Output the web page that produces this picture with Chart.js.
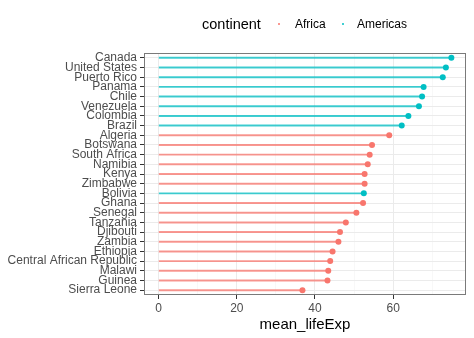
<!DOCTYPE html>
<html lang="en">
<head>
    <meta charset="UTF-8">
    <title>mean_lifeExp by country</title>
    <script src="https://cdn.jsdelivr.net/npm/chart.js"></script>
    <style>
        html, body { margin: 0; padding: 0; background: #fff; }
        #wrap { position: relative; width: 474px; height: 338px; font-family: "Liberation Sans", Arial, sans-serif; }
        #legend span { position: absolute; line-height: 1; white-space: nowrap; color: #000; }
        #legend .dot { width: 2px; height: 2px; border-radius: 1px; }
    </style>
</head>
<body>
    <div id="wrap">
        <canvas id="chart" width="474" height="338"></canvas>
        <!-- legend on top, like ggplot's legend.position = "top" -->
        <div id="legend">
            <span style="left:202px; top:17px; font-size:14.5px;">continent</span>
            <span class="dot" style="left:278px; top:23px; background:#F8766D;"></span>
            <span style="left:295px; top:18px; font-size:12px;">Africa</span>
            <span class="dot" style="left:342px; top:23px; background:#00BFC4;"></span>
            <span style="left:357px; top:18px; font-size:12px;">Americas</span>
        </div>
    </div>

    <script>
        // countries, top to bottom
        const countries = ['Canada', 'United States', 'Puerto Rico', 'Panama', 'Chile', 'Venezuela',
            'Colombia', 'Brazil', 'Algeria', 'Botswana', 'South Africa', 'Namibia', 'Kenya',
            'Zimbabwe', 'Bolivia', 'Ghana', 'Senegal', 'Tanzania', 'Djibouti', 'Zambia',
            'Ethiopia', 'Central African Republic', 'Malawi', 'Guinea', 'Sierra Leone'];
        const continents = ['Americas', 'Americas', 'Americas', 'Americas', 'Americas', 'Americas',
            'Americas', 'Americas', 'Africa', 'Africa', 'Africa', 'Africa', 'Africa',
            'Africa', 'Americas', 'Africa', 'Africa', 'Africa', 'Africa', 'Africa',
            'Africa', 'Africa', 'Africa', 'Africa', 'Africa'];
        const meanLifeExp = [74.9, 73.5, 72.7, 67.8, 67.4, 66.6, 63.9, 62.2, 59.0, 54.6, 54.0, 53.5, 52.7,
            52.7, 52.5, 52.3, 50.6, 47.9, 46.4, 46.0, 44.5, 43.9, 43.4, 43.2, 36.8];
        const xTicks = [0, 20, 40, 60];
        const xMinorTicks = [10, 30, 50, 70];

        const pointColors = { Africa: '#F8766D', Americas: '#00BFC4' };
        const segColors = { Africa: 'rgba(248,118,109,0.75)', Americas: 'rgba(0,191,196,0.75)' };

        // ggplot-style 5% expansion of the x range
        const xMax = Math.max(...meanLifeExp);
        const pad = xMax * 0.05;
        const isMajor = ctx => ctx.tick !== undefined && xTicks.includes(ctx.tick.value);

        const panelBorder = {
            id: 'panelBorder',
            afterDatasetsDraw(chart) {
                const { ctx, chartArea: a } = chart;
                ctx.save();
                ctx.strokeStyle = '#7a7a7a';
                ctx.lineWidth = 1;
                ctx.strokeRect(Math.round(a.left) + 0.5, Math.round(a.top) + 0.5,
                    Math.round(a.right - a.left) - 1, Math.round(a.bottom - a.top) - 1);
                ctx.restore();
            }
        };

        new Chart(document.getElementById('chart'), {
            type: 'bar',
            data: {
                labels: countries,
                datasets: [{
                    type: 'line',
                    data: countries.map((c, i) => ({ x: meanLifeExp[i], y: c })),
                    showLine: false,
                    pointRadius: 3,
                    pointBorderWidth: 0,
                    pointBackgroundColor: continents.map(c => pointColors[c]),
                    order: 0
                }, {
                    data: meanLifeExp.map(v => [0, v]),
                    backgroundColor: continents.map(c => segColors[c]),
                    borderWidth: 0,
                    barThickness: 1.3,
                    order: 1
                }]
            },
            options: {
                indexAxis: 'y',
                responsive: false,
                animation: false,
                layout: { padding: { top: 53, right: 8, left: 0, bottom: 0 } },
                plugins: {
                    legend: { display: false },
                    tooltip: { enabled: false }
                },
                scales: {
                    x: {
                        type: 'linear',
                        min: -pad,
                        max: xMax + pad,
                        bounds: 'data',
                        afterFit: s => { s.height = 43; },
                        afterBuildTicks: s => {
                            s.ticks = xTicks.concat(xMinorTicks).sort((a, b) => a - b).map(v => ({ value: v }));
                        },
                        ticks: {
                            padding: 2,
                            color: '#4D4D4D',
                            font: { family: '"Liberation Sans", Arial, sans-serif', size: 12 },
                            callback: v => xTicks.includes(v) ? String(v) : ''
                        },
                        grid: {
                            color: ctx => isMajor(ctx) ? '#EBEBEB' : '#F4F4F4',
                            lineWidth: ctx => isMajor(ctx) ? 1 : 0.6,
                            tickColor: ctx => isMajor(ctx) ? '#333333' : 'rgba(0,0,0,0)',
                            tickLength: 4
                        },
                        border: { display: false },
                        title: {
                            display: true,
                            text: 'mean_lifeExp',
                            color: '#000',
                            font: { family: '"Liberation Sans", Arial, sans-serif', size: 15 },
                            padding: { top: 0, bottom: 4 }
                        }
                    },
                    y: {
                        type: 'category',
                        offset: true,
                        afterFit: s => { s.width = 144; },
                        ticks: {
                            autoSkip: false,
                            padding: 3,
                            color: '#4D4D4D',
                            font: { family: '"Liberation Sans", Arial, sans-serif', size: 12 }
                        },
                        grid: {
                            offset: false,
                            color: '#EBEBEB',
                            tickColor: '#333333',
                            tickLength: 4
                        },
                        border: { display: false }
                    }
                }
            },
            plugins: [panelBorder]
        });
    </script>
</body>
</html>
